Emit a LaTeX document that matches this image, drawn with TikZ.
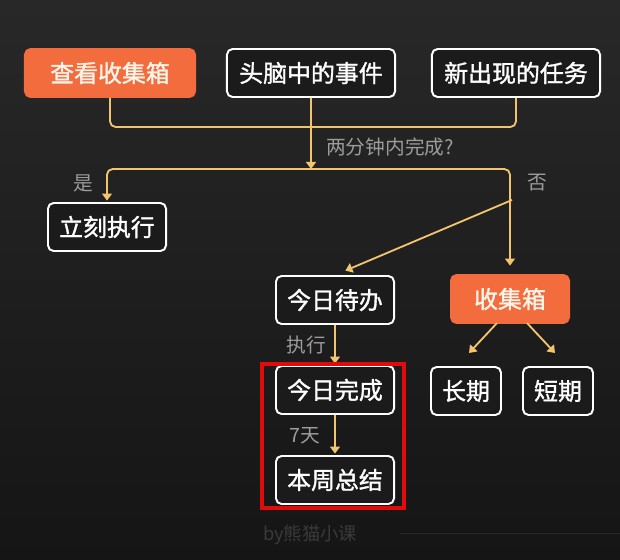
\documentclass[tikz,border=0pt]{standalone}
\usepackage{fontspec}
\setmainfont{Noto Sans CJK SC}
\newfontfamily\boxfont{Noto Sans CJK SC}[FakeBold=1.3]
\usetikzlibrary{arrows.meta}

\definecolor{bgtop}{HTML}{282828}
\definecolor{bgbot}{HTML}{151515}
\definecolor{boxfill}{HTML}{1B1B1B}
\definecolor{inboxorange}{HTML}{F36C3D}
\definecolor{flowline}{HTML}{F2C46D}
\definecolor{labelgray}{HTML}{9C9C9C}
\definecolor{markred}{HTML}{E10B0B}

\begin{document}
\begin{tikzpicture}[x=0.025cm, y=-0.025cm,
   box/.style={draw=white, line width=1.4pt, fill=boxfill, rounded corners=4pt,
      text=white, font=\boxfont\fontsize{17}{20}\selectfont, minimum height=1.2cm,
      minimum width=2.95cm, inner sep=0pt},
   widebox/.style={box, minimum width=4.2cm},
   hotbox/.style={box, draw=inboxorange, fill=inboxorange, text=white!92!orange},
   smallbox/.style={box, minimum width=1.75cm},
   flow/.style={draw=flowline, line width=1.3pt},
   arr/.style={flow, -{Triangle[length=5pt, width=7pt]}},
   tag/.style={text=labelgray, font=\fontsize{14}{16}\selectfont, inner sep=0pt}]

   % background
   \shade[top color=bgtop, bottom color=bgbot] (0,0) rectangle (620,560);
   \useasboundingbox (0,0) rectangle (620,560);

   % sources
   \node[hotbox, minimum width=4.25cm] (inbox) at (110,73) {查看收集箱};
   \node[widebox] (brain) at (311,73) {头脑中的事件};
   \node[widebox] (newtask) at (516,73) {新出现的任务};

   \coordinate (merge) at (311,127);
   \coordinate (ask) at (311,169);
   \coordinate (fork) at (512,200);

   \draw[flow, rounded corners=4pt] (inbox.south) |- (merge) -| (newtask.south);
   \draw[arr] (brain.south) -- (ask);
   \node[tag, anchor=west] (asklabel) at (326,147) {两分钟内完成?};

   % yes / no
   \node[box] (now) at (107,227) {立刻执行};
   \node[box] (today) at (335,300) {今日待办};
   \node[hotbox] (basket) at (510,299) {收集箱};

   \draw[arr, rounded corners=4pt, shorten >=1pt] (ask) -| (now.north);
   \draw[arr, rounded corners=4pt, shorten >=6pt] (ask) -| (basket.north);
   \draw[arr, shorten >=8pt] (fork) -- (today.north);
   \node[tag] (yeslabel) at (83,183) {是};
   \node[tag] (nolabel) at (537,183) {否};

   % today
   \node[box] (done) at (335,390) {今日完成};
   \node[box] (review) at (335,480) {本周总结};
   \draw[arr, shorten >=1pt] (today.south) -- (done.north);
   \draw[arr, shorten >=1pt] (done.south) -- (review.north);
   \node[tag] (dolabel) at (306,345) {执行};
   \node[tag] (weeklabel) at (305,436) {7天};
   \draw[markred, line width=3.5pt] (262,364) rectangle (404,508);

   % basket
   \node[smallbox] (longterm) at (466,391) {长期};
   \node[smallbox] (shortterm) at (558,391) {短期};
   \coordinate (bl) at (497,323);
   \coordinate (br) at (527,323);
   \draw[arr] (bl) -- ++(-28,30);
   \draw[arr] (br) -- ++(28,30);

   % watermark
   \node[text=white!16!bgbot, font=\fontsize{13}{15}\selectfont] (mark) at (310,535) {by熊猫小课};
   \draw[white!8!bgbot, line width=0.6pt] (400,533) -- (620,533);
\end{tikzpicture}
\end{document}
